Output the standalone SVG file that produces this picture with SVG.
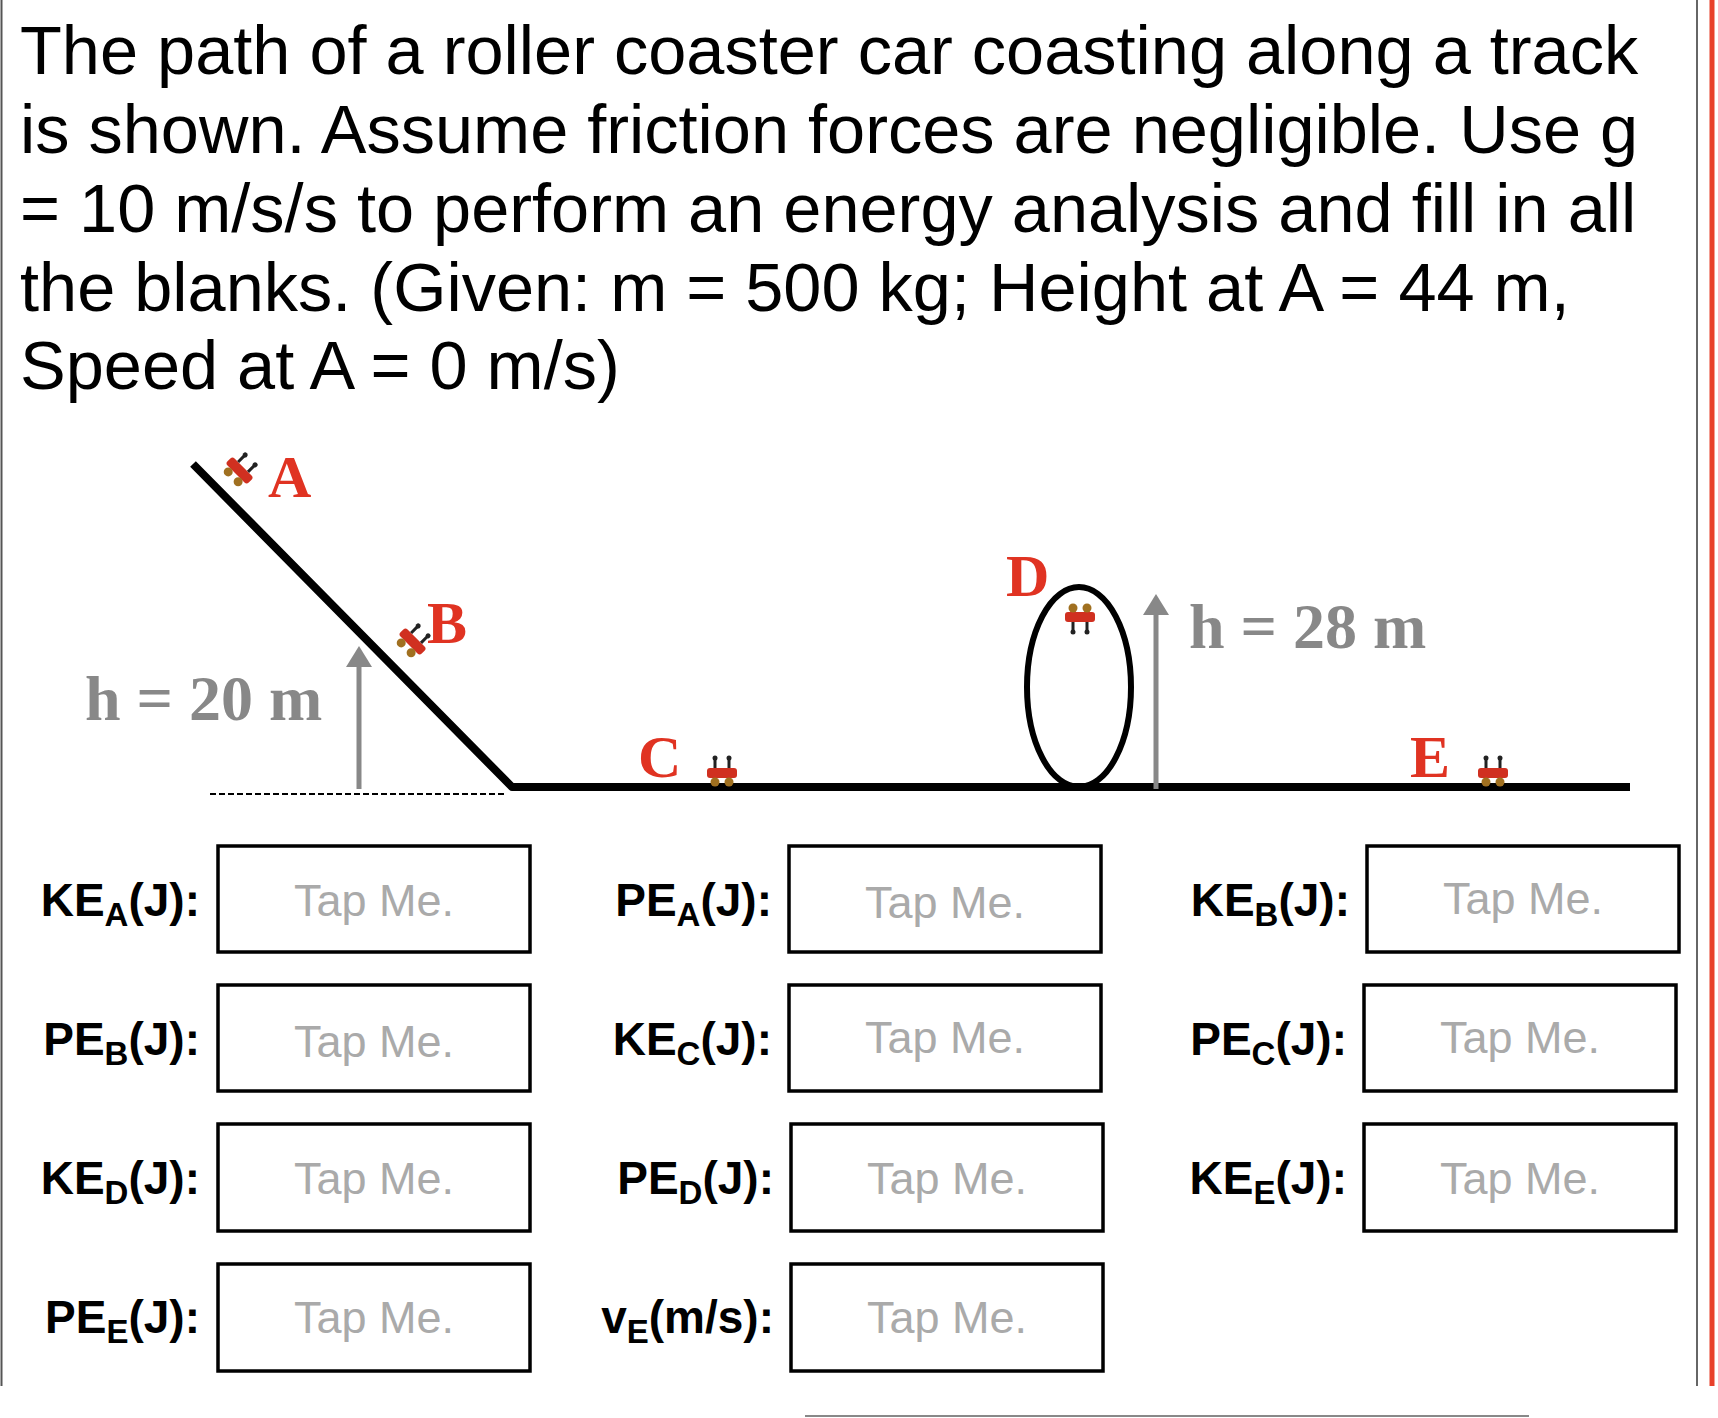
<svg xmlns="http://www.w3.org/2000/svg" width="1718" height="1418" viewBox="0 0 1718 1418">
<style>
.t{font-family:"Liberation Sans",Arial,sans-serif;font-size:68.5px;fill:#000}
.pt{font-family:"Liberation Serif","Times New Roman",serif;font-weight:bold;font-size:60px;fill:#e03322}
.h{font-family:"Liberation Serif","Times New Roman",serif;font-weight:bold;font-size:64px;fill:#888}
.lb{font-family:"Liberation Sans",Arial,sans-serif;font-weight:bold;font-size:46px;fill:#000;text-anchor:end}
.tap{font-family:"Liberation Sans",Arial,sans-serif;font-size:45px;fill:#aaa;text-anchor:middle}
.box{fill:#fff;stroke:#000;stroke-width:3.5}
.sub{font-size:33px}
</style>
<defs>
<g id="car"><rect x="-15" y="-10" width="30" height="10" rx="3" fill="#d03020"/><circle cx="-7" cy="4" r="4.5" fill="#a07020"/><circle cx="7" cy="4" r="4.5" fill="#a07020"/><path d="M-7 -10v-10M7 -10v-10" stroke="#222" stroke-width="3"/><circle cx="-7" cy="-20" r="2.5" fill="#222"/><circle cx="7" cy="-20" r="2.5" fill="#222"/></g>
</defs>
<rect width="1718" height="1418" fill="#fff"/>
<line x1="1.5" y1="0" x2="1.5" y2="1386" stroke="#555" stroke-width="2"/>
<line x1="1697" y1="0" x2="1697" y2="1386" stroke="#666" stroke-width="2"/>
<line x1="1712" y1="0" x2="1712" y2="1386" stroke="#e8402a" stroke-width="5"/>
<line x1="805" y1="1416" x2="1529" y2="1416" stroke="#888" stroke-width="2"/>
<g id="title">
<text class="t" x="20" y="74">The path of a roller coaster car coasting along a track</text>
<text class="t" x="20" y="153">is shown. Assume friction forces are negligible. Use g</text>
<text class="t" x="20" y="232">= 10 m/s/s to perform an energy analysis and fill in all</text>
<text class="t" x="20" y="311">the blanks. (Given: m = 500 kg; Height at A = 44 m,</text>
<text class="t" x="20" y="389">Speed at A = 0 m/s)</text>
</g>
<g id="track">
<polyline points="193,464 512,787 1630,787" fill="none" stroke="#000" stroke-width="8" stroke-linejoin="round"/>
<line x1="210" y1="794" x2="504" y2="794" stroke="#000" stroke-width="2" stroke-dasharray="6,3"/>
<ellipse cx="1079" cy="687" rx="52" ry="100" fill="none" stroke="#000" stroke-width="6"/>
</g>
<g id="arrows" fill="#888" stroke="#888">
<line x1="359" y1="789" x2="359" y2="665" stroke-width="5"/>
<polygon points="346,667 372,667 359,646" stroke="none"/>
<line x1="1156" y1="789" x2="1156" y2="613" stroke-width="5"/>
<polygon points="1143,615 1169,615 1156,594" stroke="none"/>
</g>
<text class="h" x="85" y="720">h = 20 m</text>
<text class="h" x="1189" y="648">h = 28 m</text>
<g id="cars">
<use href="#car" transform="translate(236,474) rotate(45)"/>
<use href="#car" transform="translate(409,645) rotate(45)"/>
<use href="#car" transform="translate(722,778)"/>
<use href="#car" transform="translate(1080,612) rotate(180)"/>
<use href="#car" transform="translate(1493,778)"/>
</g>
<text class="pt" x="268" y="497">A</text>
<text class="pt" x="427" y="643">B</text>
<text class="pt" x="638" y="777">C</text>
<text class="pt" x="1006" y="596">D</text>
<text class="pt" x="1410" y="777">E</text>
<g id="fields">
<g id="f1"><text class="lb" x="200" y="916">KE<tspan class="sub" dy="10">A</tspan><tspan dy="-10">(J):</tspan></text><rect class="box" x="218" y="846" width="312" height="106"/><text class="tap" x="374" y="916">Tap Me.</text></g>
<g id="f2"><text class="lb" x="772" y="916">PE<tspan class="sub" dy="10">A</tspan><tspan dy="-10">(J):</tspan></text><rect class="box" x="789" y="846" width="312" height="106"/><text class="tap" x="945" y="918">Tap Me.</text></g>
<g id="f3"><text class="lb" x="1350" y="916">KE<tspan class="sub" dy="10">B</tspan><tspan dy="-10">(J):</tspan></text><rect class="box" x="1367" y="846" width="312" height="106"/><text class="tap" x="1523" y="914">Tap Me.</text></g>
<g id="f4"><text class="lb" x="200" y="1055">PE<tspan class="sub" dy="10">B</tspan><tspan dy="-10">(J):</tspan></text><rect class="box" x="218" y="985" width="312" height="106"/><text class="tap" x="374" y="1057">Tap Me.</text></g>
<g id="f5"><text class="lb" x="772" y="1055">KE<tspan class="sub" dy="10">C</tspan><tspan dy="-10">(J):</tspan></text><rect class="box" x="789" y="985" width="312" height="106"/><text class="tap" x="945" y="1053">Tap Me.</text></g>
<g id="f6"><text class="lb" x="1347" y="1055">PE<tspan class="sub" dy="10">C</tspan><tspan dy="-10">(J):</tspan></text><rect class="box" x="1364" y="985" width="312" height="106"/><text class="tap" x="1520" y="1053">Tap Me.</text></g>
<g id="f7"><text class="lb" x="200" y="1194">KE<tspan class="sub" dy="10">D</tspan><tspan dy="-10">(J):</tspan></text><rect class="box" x="218" y="1124" width="312" height="107"/><text class="tap" x="374" y="1194">Tap Me.</text></g>
<g id="f8"><text class="lb" x="774" y="1194">PE<tspan class="sub" dy="10">D</tspan><tspan dy="-10">(J):</tspan></text><rect class="box" x="791" y="1124" width="312" height="107"/><text class="tap" x="947" y="1194">Tap Me.</text></g>
<g id="f9"><text class="lb" x="1347" y="1194">KE<tspan class="sub" dy="10">E</tspan><tspan dy="-10">(J):</tspan></text><rect class="box" x="1364" y="1124" width="312" height="107"/><text class="tap" x="1520" y="1194">Tap Me.</text></g>
<g id="f10"><text class="lb" x="200" y="1333">PE<tspan class="sub" dy="10">E</tspan><tspan dy="-10">(J):</tspan></text><rect class="box" x="218" y="1264" width="312" height="107"/><text class="tap" x="374" y="1333">Tap Me.</text></g>
<g id="f11"><text class="lb" x="774" y="1333">v<tspan class="sub" dy="10">E</tspan><tspan dy="-10">(m/s):</tspan></text><rect class="box" x="791" y="1264" width="312" height="107"/><text class="tap" x="947" y="1333">Tap Me.</text></g>
</g>
</svg>
